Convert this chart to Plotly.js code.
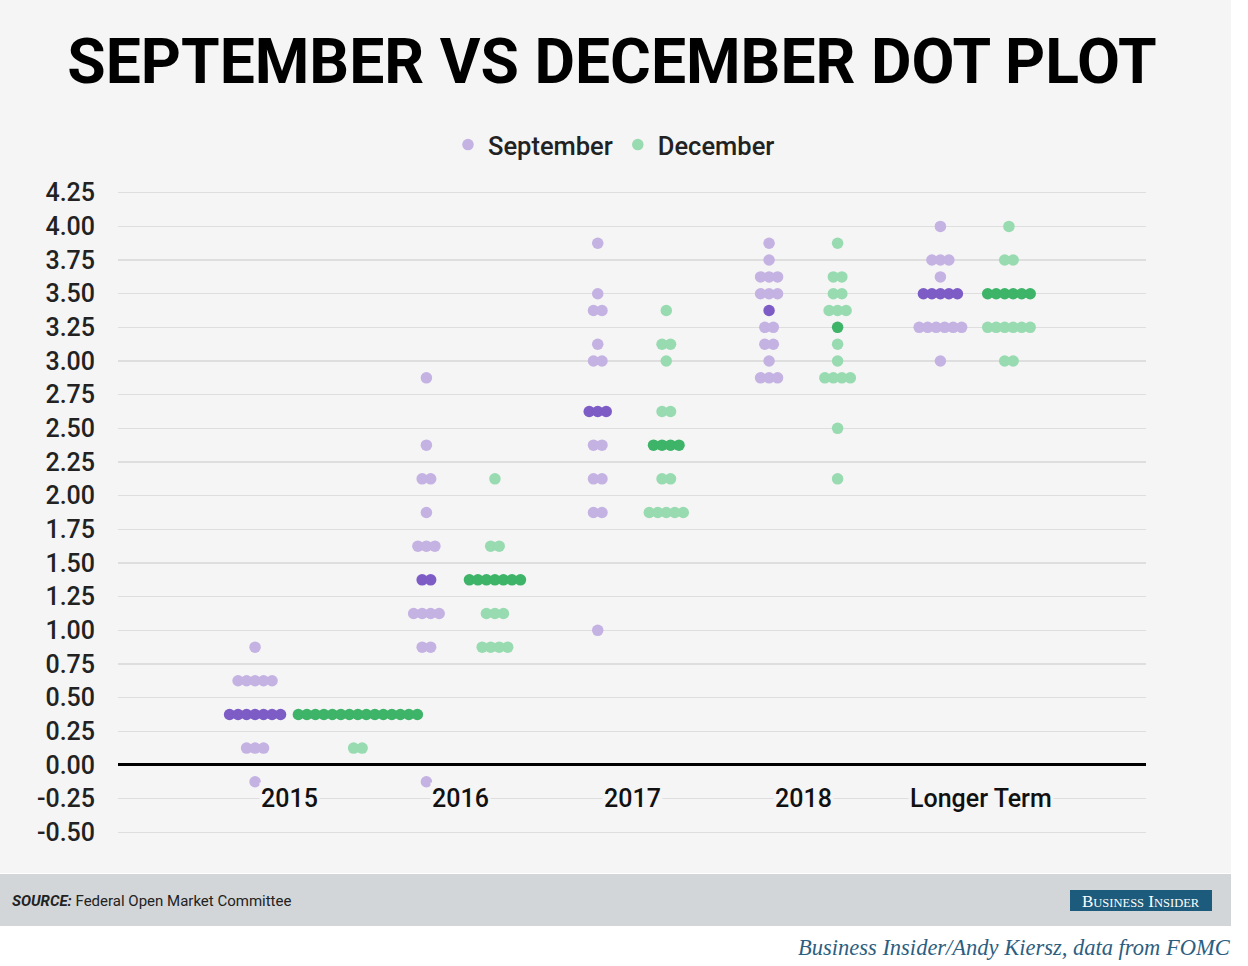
<!DOCTYPE html>
<html><head><meta charset="utf-8">
<script src="https://cdn.plot.ly/plotly-3.0.1.min.js"></script>
<style>html,body{margin:0;padding:0;background:#fff;}#chart{width:1248px;height:966px;}</style>
</head><body><div id="chart"></div>
<script>
// ---- data (one entry per FOMC participant, midpoint of target range, %) ----
const categories = ['2015', '2016', '2017', '2018', 'Longer Term'];
const seriesNames = ['September', 'December'];
const sep2015 = [0.875, 0.625, 0.625, 0.625, 0.625, 0.625, 0.375, 0.375, 0.375, 0.375, 0.375, 0.375, 0.375, 0.125, 0.125, 0.125, -0.125];
const dec2015 = [0.375, 0.375, 0.375, 0.375, 0.375, 0.375, 0.375, 0.375, 0.375, 0.375, 0.375, 0.375, 0.375, 0.375, 0.375, 0.125, 0.125];
const sep2016 = [2.875, 2.375, 2.125, 2.125, 1.875, 1.625, 1.625, 1.625, 1.375, 1.375, 1.125, 1.125, 1.125, 1.125, 0.875, 0.875, -0.125];
const dec2016 = [2.125, 1.625, 1.625, 1.375, 1.375, 1.375, 1.375, 1.375, 1.375, 1.375, 1.125, 1.125, 1.125, 0.875, 0.875, 0.875, 0.875];
const sep2017 = [3.875, 3.5, 3.375, 3.375, 3.125, 3.0, 3.0, 2.625, 2.625, 2.625, 2.375, 2.375, 2.125, 2.125, 1.875, 1.875, 1.0];
const dec2017 = [3.375, 3.125, 3.125, 3.0, 2.625, 2.625, 2.375, 2.375, 2.375, 2.375, 2.125, 2.125, 1.875, 1.875, 1.875, 1.875, 1.875];
const sep2018 = [3.875, 3.75, 3.625, 3.625, 3.625, 3.5, 3.5, 3.5, 3.375, 3.25, 3.25, 3.125, 3.125, 3.0, 2.875, 2.875, 2.875];
const dec2018 = [3.875, 3.625, 3.625, 3.5, 3.5, 3.375, 3.375, 3.375, 3.25, 3.125, 3.0, 2.875, 2.875, 2.875, 2.875, 2.5, 2.125];
const sepLT = [4.0, 3.75, 3.75, 3.75, 3.625, 3.5, 3.5, 3.5, 3.5, 3.5, 3.25, 3.25, 3.25, 3.25, 3.25, 3.25, 3.0];
const decLT = [4.0, 3.75, 3.75, 3.5, 3.5, 3.5, 3.5, 3.5, 3.5, 3.25, 3.25, 3.25, 3.25, 3.25, 3.25, 3.0, 3.0];
const septemberDots = [sep2015, sep2016, sep2017, sep2018, sepLT];
const decemberDots = [dec2015, dec2016, dec2017, dec2018, decLT];
const yTickVals = [-0.5, -0.25, 0, 0.25, 0.5, 0.75, 1, 1.25, 1.5, 1.75, 2, 2.25, 2.5, 2.75, 3, 3.25, 3.5, 3.75, 4, 4.25];
const yTickText = ['-0.50', '-0.25', '0.00', '0.25', '0.50', '0.75', '1.00', '1.25', '1.50', '1.75', '2.00', '2.25', '2.50', '2.75', '3.00', '3.25', '3.50', '3.75', '4.00', '4.25'];

// ---- layout settings ----
const W = 1248, H = 966;
const M = {l: 118, r: 102, t: 186, b: 127};
const sepOffset = [-0.2, -0.2, -0.2, -0.2, -0.2];
const decOffset = [0.4, 0.2, 0.2, 0.2, 0.2];
const labelShift = [0, 0, 0, 0, 6];
const dotStep = 0.0496;
const colors = {
  sepLight: '#c4b2e3', sepDark: '#7d5cc6',
  decLight: '#98dbb1', decDark: '#3db468'
};

function median(arr) {
  const s = arr.slice().sort((a, b) => a - b);
  return s[Math.floor((s.length - 1) / 2)];
}
function swarm(groups, offsets) {
  const light = {x: [], y: []}, dark = {x: [], y: []};
  groups.forEach((vals, k) => {
    const med = median(vals);
    const counts = new Map();
    vals.forEach(v => counts.set(v, (counts.get(v) || 0) + 1));
    counts.forEach((n, v) => {
      const tgt = (v === med) ? dark : light;
      for (let i = 0; i < n; i++) {
        tgt.x.push(k + offsets[k] + (i - (n - 1) / 2) * dotStep);
        tgt.y.push(v);
      }
    });
  });
  return {light, dark};
}
const sepS = swarm(septemberDots, sepOffset);
const decS = swarm(decemberDots, decOffset);
const mk = (c) => ({size: 11.5, color: c, line: {width: 0}});
const traces = [
  {type: 'scatter', mode: 'markers', name: seriesNames[0], x: sepS.light.x, y: sepS.light.y, marker: mk(colors.sepLight), hoverinfo: 'y'},
  {type: 'scatter', mode: 'markers', name: seriesNames[0] + ' median', x: sepS.dark.x, y: sepS.dark.y, marker: mk(colors.sepDark), showlegend: false, hoverinfo: 'y'},
  {type: 'scatter', mode: 'markers', name: seriesNames[1], x: decS.light.x, y: decS.light.y, marker: mk(colors.decLight), hoverinfo: 'y'},
  {type: 'scatter', mode: 'markers', name: seriesNames[1] + ' median', x: decS.dark.x, y: decS.dark.y, marker: mk(colors.decDark), showlegend: false, hoverinfo: 'y'}
];

const pw = W - M.l - M.r, ph = H - M.t - M.b;
const px = X => (X - M.l) / pw;
const py = Y => (H - M.b - Y) / ph;

const annotations = categories.map((c, k) => ({
  x: k, y: -0.25, xref: 'x', yref: 'y', text: c, showarrow: false, xshift: labelShift[k],
  font: {family: 'Roboto', size: 25, color: '#111', weight: 500},
  bgcolor: '#f5f5f5', borderpad: 1, xanchor: 'center', yanchor: 'middle'
}));
annotations.push({
  xref: 'paper', yref: 'paper', x: px(10), y: py(901), xanchor: 'left', yanchor: 'middle',
  text: '<b><i>SOURCE:</i></b> Federal Open Market Committee', showarrow: false,
  font: {family: 'Roboto', size: 15, color: '#222'}
});
annotations.push({
  xref: 'paper', yref: 'paper', x: px(1141), y: py(901), xanchor: 'center', yanchor: 'middle',
  text: 'B<span style="font-size:12.5px">USINESS</span> I<span style="font-size:12.5px">NSIDER</span>', showarrow: false,
  font: {family: 'Liberation Serif', size: 17, color: '#ffffff'}
});
annotations.push({
  xref: 'paper', yref: 'paper', x: px(1233), y: py(947), xanchor: 'right', yanchor: 'middle',
  text: '<i>Business Insider/Andy Kiersz, data from FOMC</i>', showarrow: false,
  font: {family: 'Liberation Serif', size: 22.5, color: '#2c5e80'}
});

const shapes = [
  {type: 'rect', xref: 'paper', yref: 'paper', x0: px(0), x1: px(1231), y0: py(873), y1: py(0), fillcolor: '#f5f5f5', line: {width: 0}, layer: 'below'},
  {type: 'rect', xref: 'paper', yref: 'paper', x0: px(0), x1: px(1231), y0: py(926), y1: py(874), fillcolor: '#d2d6d8', line: {width: 0}, layer: 'below'},
  {type: 'rect', xref: 'paper', yref: 'paper', x0: px(1070), x1: px(1212), y0: py(911), y1: py(890), fillcolor: '#1c5b7b', line: {width: 0}, layer: 'below'}
];

const layout = {
  width: W, height: H, margin: M,
  paper_bgcolor: '#ffffff', plot_bgcolor: 'rgba(0,0,0,0)',
  title: {text: '<b>SEPTEMBER VS DECEMBER DOT PLOT</b>', xref: 'paper', x: px(612), xanchor: 'center', yref: 'container', y: 1 - 61 / H, yanchor: 'middle',
    font: {family: 'Roboto', size: 62.4, color: '#000', weight: 900}},
  showlegend: true,
  legend: {orientation: 'h', x: px(614), xanchor: 'center', y: py(145), yanchor: 'middle',
    font: {family: 'Roboto', size: 25.5, color: '#222', weight: 500}, itemwidth: 30, bgcolor: 'rgba(0,0,0,0)', traceorder: 'normal'},
  xaxis: {range: [-1, 5], showgrid: false, zeroline: false, showticklabels: false, ticks: '', fixedrange: true},
  yaxis: {range: [-0.55, 4.3], tickvals: yTickVals, ticktext: yTickText, showgrid: true, gridcolor: '#dedede', gridwidth: 1.5,
    zeroline: true, zerolinecolor: '#000', zerolinewidth: 3, ticks: '', ticklabelstandoff: 22,
    tickfont: {family: 'Roboto', size: 25, color: '#222', weight: 500}, fixedrange: true},
  annotations, shapes,
  hovermode: 'closest'
};
Plotly.newPlot('chart', traces, layout, {displayModeBar: false, staticPlot: true});
</script></body></html>
